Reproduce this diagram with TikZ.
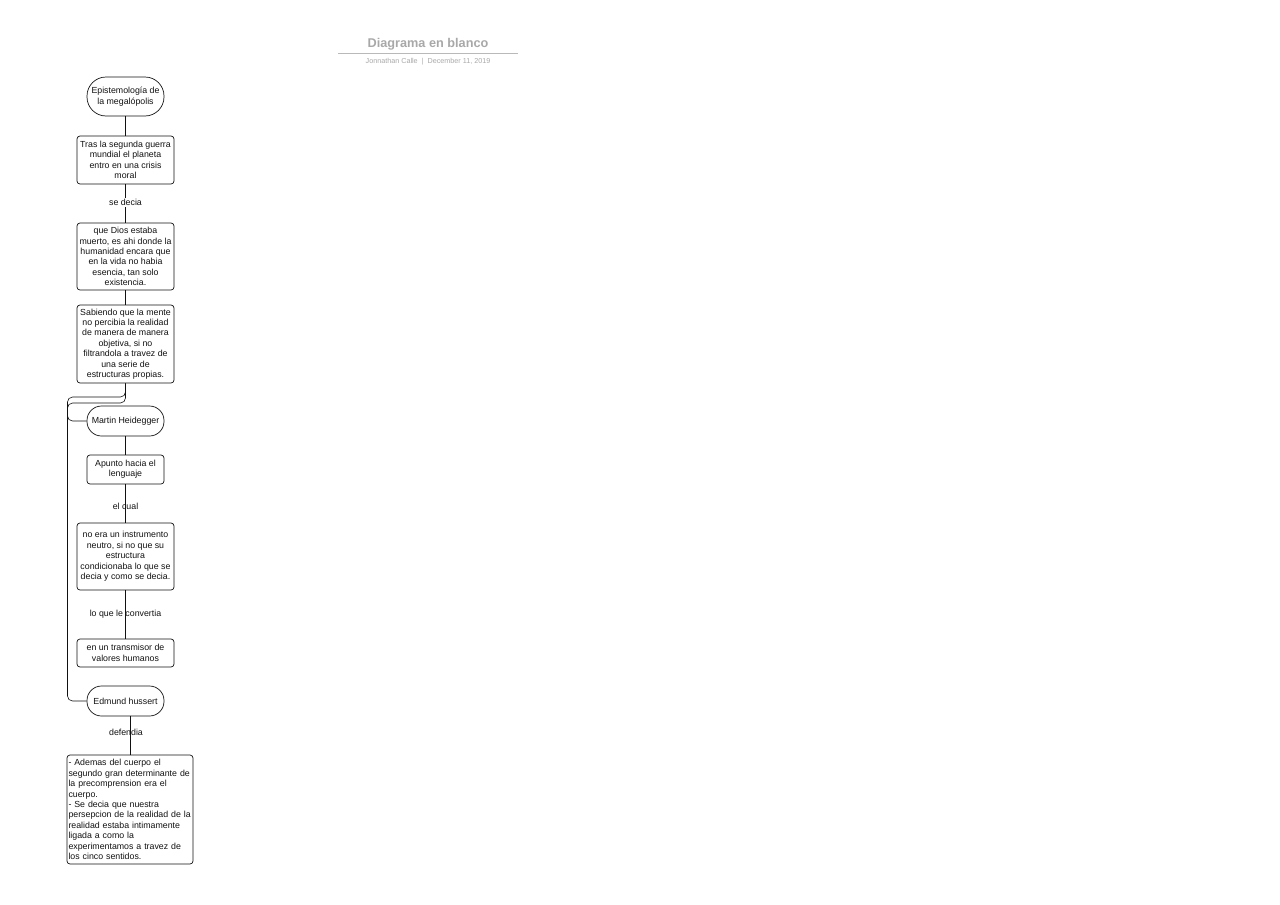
\documentclass[tikz,border=0pt]{standalone}
\usepackage{fontspec}
\setmainfont{Liberation Sans}
\usepackage{xcolor}
\definecolor{tinta}{HTML}{111111}
\definecolor{gristitulo}{HTML}{A8A8A8}

\begin{document}
\begin{tikzpicture}[x=1pt,y=-1pt,
  caja/.style={draw=tinta,line width=0.7pt,rounded corners=3pt,align=center,inner sep=2pt,
    minimum width=97pt,font=\fontsize{8.8}{10.4}\selectfont,text=tinta},
  term/.style={caja,minimum width=77pt,minimum height=30pt,rounded corners=14.5pt},
  conector/.style={draw=tinta,line width=0.6pt},
  etiqueta/.style={font=\fontsize{8.8}{10.4}\selectfont,text=tinta,inner sep=1pt}]
  \useasboundingbox (0,0) rectangle (1280,905);

  \node[font=\fontsize{12.7}{14}\selectfont\bfseries,text=gristitulo] (titulo) at (428,44.5) {Diagrama en blanco};
  \draw[gristitulo!80,line width=1.2pt] (338,53.5) -- (518,53.5);
  \node[font=\fontsize{7.2}{8}\selectfont,text=gristitulo] (autor) at (428,62) {Jonnathan Calle \ | \ December 11, 2019};

  \node[term,minimum height=39pt,rounded corners=19pt] (epis) at (125.5,96.5) {Epistemología de\\la megalópolis};
  \node[caja,minimum height=48pt] (guerra) at (125.5,160) {Tras la segunda guerra\\mundial el planeta\\entro en una crisis\\moral};
  \node[caja,minimum height=67pt] (dios) at (125.5,256.5) {que Dios estaba\\muerto, es ahi donde la\\humanidad encara que\\en la vida no habia\\esencia, tan solo\\existencia.};
  \node[caja,minimum height=78pt] (mente) at (125.5,344) {Sabiendo que la mente\\no percibia la realidad\\de manera de manera\\objetiva, si no\\filtrandola a travez de\\una serie de\\estructuras propias.};
  \node[term] (heidegger) at (125.5,421) {Martin Heidegger};
  \node[caja,minimum width=77pt,minimum height=29pt] (lenguaje) at (125.5,469.5) {Apunto hacia el\\lenguaje};
  \node[caja,minimum height=67pt] (neutro) at (125.5,556.5) {no era un instrumento\\neutro, si no que su\\estructura\\condicionaba lo que se\\decia y como se decia.};
  \node[caja,minimum height=28pt] (valores) at (125.5,653) {en un transmisor de\\valores humanos};
  \node[term] (husserl) at (125.5,701) {Edmund hussert};
  \node[caja,align=left,text width=123pt,minimum width=126pt,minimum height=109pt,inner xsep=1.5pt] (cuerpo) at (130,809.5)
    {- Ademas del cuerpo el\\segundo gran determinante de\\la precomprension era el\\cuerpo.\\- Se decia que nuestra\\persepcion de la realidad de la\\realidad estaba intimamente\\ligada a como la\\experimentamos a travez de\\los cinco sentidos.};

  \coordinate (codo1) at (67.5,397);
  \coordinate (codo2) at (67.5,403);

  \draw[conector] (epis) -- (guerra);
  \draw[conector] (guerra) -- node[etiqueta,pos=0.47,fill=white] (sedecia) {se decia} (dios);
  \draw[conector] (dios) -- (mente);
  \draw[conector,rounded corners=5pt] (mente.south) |- (codo2) |- (heidegger.west);
  \draw[conector,rounded corners=5pt] (mente.south) |- (codo1) |- (husserl.west);
  \draw[conector] (heidegger) -- (lenguaje);
  \draw[conector] (lenguaje) -- node[etiqueta,pos=0.58] (elcual) {el cual} (neutro);
  \draw[conector] (neutro) -- node[etiqueta] (convertia) {lo que le convertia} (valores);
  \draw[conector] (cuerpo.north) -- node[etiqueta,pos=0.58,xshift=-4pt] (defendia) {defendia} (cuerpo.north |- husserl.south);
\end{tikzpicture}
\end{document}
